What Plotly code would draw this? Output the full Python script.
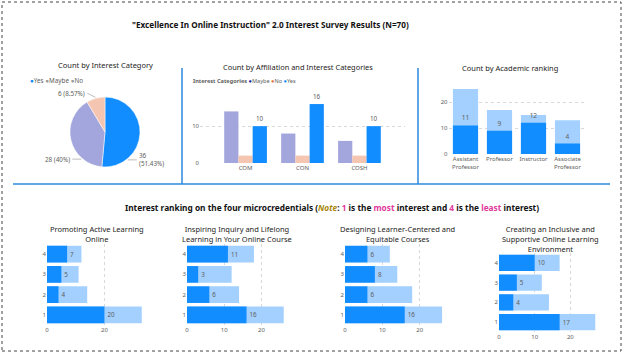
import math
import plotly.graph_objects as go

W, H = 624, 354
FONT = "Noto Sans"
BLUE = "#118DFF"
LIGHT = "#A3D0FF"
LAV = "#A3A6DC"
PEACH = "#F4C5B0"
GREY = "#605E5C"
TITLE_C = "#252423"

# ---- data ----
interest_labels = ["Yes", "Maybe", "No"]
interest_counts = [36, 28, 6]

affiliations = ["COM", "CON", "COSH"]
aff_maybe = [14, 8, 6]
aff_no = [2, 2, 2]
aff_yes = [10, 16, 10]

ranks = ["Assistant<br>Professor", "Professor", "Instructor", "Associate<br>Professor"]
rank_total = [25, 17, 15, 13]
rank_yes = [11, 9, 12, 4]

levels = [1, 2, 3, 4]
course_titles = [
    "Promoting Active Learning<br>Online",
    "Inspiring Inquiry and Lifelong<br>Learning in Your Online Course",
    "Designing Learner-Centered and<br>Equitable Courses",
    "Creating an Inclusive and<br>Supportive Online Learning<br>Environment",
]
course_total = [[33, 14, 11, 12], [26, 14, 12, 18], [26, 18, 14, 12], [27, 14, 12, 17]]
course_yes = [[20, 4, 5, 7], [16, 6, 3, 11], [16, 6, 8, 6], [17, 4, 5, 10]]


def px(x):
    return x / W


def py(y):
    return 1 - y / H


fig = go.Figure()
ann = []
shapes = []

# ---- pie ----
cx, cy, r = 105, 132, 35
fig.add_trace(go.Pie(
    labels=interest_labels, values=interest_counts,
    textinfo="none", sort=False, direction="clockwise",
    marker=dict(colors=[BLUE, LAV, PEACH], line=dict(color="white", width=0.5)),
    domain=dict(x=[px(cx - r), px(cx + r)], y=[py(cy + r), py(cy - r)]),
    showlegend=False, hoverinfo="label+value+percent",
))
# labels with leader lines: where along each slice the line meets it, and text offset
label_frac = [0.76, 0.25, 0.5]
label_off = [(9, 0), (-9, 0), (-8, -4)]
total = sum(interest_counts)
start = 0
for v, frac, (ox, oy) in zip(interest_counts, label_frac, label_off):
    pct = round(v / total * 100, 2)
    ang = 2 * math.pi * (start + v * frac) / total
    start += v
    hx = cx + (r + 1) * math.sin(ang)
    hy = cy - (r + 1) * math.cos(ang)
    txt = f"{v}<br>({pct:g}%)" if v == max(interest_counts) else f"{v} ({pct:g}%)"
    ann.append(dict(x=px(hx), y=py(hy), text=txt, showarrow=True, arrowhead=0,
                    arrowwidth=0.7, arrowcolor="#A0A0A0", ax=ox, ay=oy,
                    xanchor="left" if ox > 0 else "right", yanchor="middle",
                    align="left", font=dict(size=6.3, color=GREY)))
ann.append(dict(x=px(105), y=py(65), text="Count by Interest Category",
                font=dict(size=7.5, color=TITLE_C)))
ann.append(dict(x=px(28), y=py(80), xanchor="left",
                text=f"<span style='color:{BLUE}'>●</span>Yes <span style='color:#9A9A9A'>●</span>Maybe "
                     f"<span style='color:#9A9A9A'>●</span>No",
                font=dict(size=6.3, color=GREY)))

# ---- affiliation ----
for name, vals, col, off, lab in [("Maybe", aff_maybe, LAV, -0.375, False),
                                  ("No", aff_no, PEACH, -0.125, False),
                                  ("Yes", aff_yes, BLUE, 0.125, True)]:
    fig.add_trace(go.Bar(
        x=affiliations, y=vals, name=name, marker=dict(color=col, line=dict(width=0)),
        width=0.25, offset=off, xaxis="x", yaxis="y", showlegend=False,
        text=vals if lab else None, textposition="outside", cliponaxis=False,
        textfont=dict(size=6.3, color=GREY),
    ))
ann.append(dict(x=px(298), y=py(67), text="Count by Affiliation and Interest Categories",
                font=dict(size=7.4, color=TITLE_C)))
ann.append(dict(x=px(191), y=py(81), xanchor="left",
                text="<b>Interest Categories</b> <span style='color:#12239E'>●</span>Maybe "
                     "<span style='color:#E66C37'>●</span>No <span style='color:#118DFF'>●</span>Yes",
                font=dict(size=5.6, color=GREY)))

# ---- academic ranking ----
fig.add_trace(go.Bar(x=ranks, y=rank_total, marker=dict(color=LIGHT, line=dict(width=0)),
                     width=0.74, xaxis="x2", yaxis="y2", showlegend=False))
fig.add_trace(go.Bar(x=ranks, y=rank_yes, marker=dict(color=BLUE, line=dict(width=0)),
                     width=0.74, xaxis="x2", yaxis="y2", showlegend=False,
                     text=rank_yes, textposition="outside", cliponaxis=False,
                     textfont=dict(size=6.5, color=GREY)))
ann.append(dict(x=px(510), y=py(68), text="Count by Academic ranking",
                font=dict(size=7.5, color=TITLE_C)))

# ---- microcredential rankings ----
panel_x = [(47, 147.5, 35, [0, 20]), (187, 298.6, 30, [0, 10, 20]),
           (345, 457, 30, [0, 10, 20]), (499, 606, 30, [0, 10, 20])]
panel_y = [(325, 244), (325, 244), (325, 244), (332, 253)]
title_cx = [97, 237, 397, 550]
for i in range(4):
    n = i + 3
    fig.add_trace(go.Bar(y=levels, x=course_total[i], orientation="h",
                         marker=dict(color=LIGHT, line=dict(width=0)), width=0.82,
                         xaxis=f"x{n}", yaxis=f"y{n}", showlegend=False))
    fig.add_trace(go.Bar(y=levels, x=course_yes[i], orientation="h",
                         marker=dict(color=BLUE, line=dict(width=0)), width=0.82,
                         xaxis=f"x{n}", yaxis=f"y{n}", showlegend=False,
                         text=course_yes[i], textposition="outside", cliponaxis=False,
                         textfont=dict(size=6.3, color=GREY)))
    ann.append(dict(x=px(title_cx[i]), y=py(222), yanchor="top", text=course_titles[i],
                    font=dict(size=7.5, color=TITLE_C)))

ann.append(dict(
    x=px(332), y=py(207),
    text="<b>Interest ranking on the four microcredentials (<i><span style='color:#A8860A'>Note</span></i>: "
         "<span style='color:#E0389C'>1</span> is the <span style='color:#E0389C'>most</span> interest and "
         "<span style='color:#E0389C'>4</span> is the <span style='color:#E0389C'>least</span> interest)</b>",
    font=dict(size=8.3, color="#111")))
ann.append(dict(x=px(270), y=py(25),
                text="<b>\"Excellence In Online Instruction\" 2.0 Interest Survey Results (N=70)</b>",
                font=dict(size=8.2, color="#111")))

for a in ann:
    a.setdefault("xref", "paper")
    a.setdefault("yref", "paper")
    a.setdefault("showarrow", False)
    a.setdefault("xanchor", "center")
    a.setdefault("yanchor", "middle")

# ---- frame & separators ----
shapes.append(dict(type="rect", xref="paper", yref="paper", x0=px(2), x1=px(621), y0=py(351), y1=py(2),
                   line=dict(color="#444", width=1, dash="dot")))
shapes.append(dict(type="line", xref="paper", yref="paper", x0=px(13), x1=px(610), y0=py(184), y1=py(184),
                   line=dict(color="#2B8AE0", width=1.5)))
for xv in (182, 418):
    shapes.append(dict(type="line", xref="paper", yref="paper", x0=px(xv), x1=px(xv), y0=py(184), y1=py(68),
                       line=dict(color="#2B8AE0", width=1.5)))

tick = dict(size=6, color=GREY, family=FONT)
grid = dict(showgrid=True, gridcolor="#D8D8D8", griddash="dot", gridwidth=1, zeroline=False,
            showline=False, ticks="", tickfont=tick, automargin=False)
layout = dict(
    template="none",
    width=W, height=H, margin=dict(l=0, r=0, t=0, b=0, autoexpand=False),
    paper_bgcolor="white", plot_bgcolor="white", showlegend=False,
    font=dict(family=FONT), barmode="overlay",
    annotations=ann, shapes=shapes,
    xaxis=dict(domain=[px(200), px(405)], range=[-0.8, 2.8], anchor="y", showgrid=False,
               ticks="", tickfont=tick, type="category", automargin=False),
    yaxis=dict(domain=[py(163), py(93)], range=[0, 19], dtick=10, anchor="x", **grid),
    xaxis2=dict(domain=[px(448.5), px(584.5)], range=[-0.5, 3.5], anchor="y2", showgrid=False,
                ticks="", tickfont=tick, type="category", automargin=False),
    yaxis2=dict(domain=[py(154), py(86)], range=[0, 26.2], dtick=10, anchor="x2", **grid),
)
for i in range(4):
    n = i + 3
    x0, x1, xmax, tv = panel_x[i]
    yb, yt = panel_y[i]
    layout[f"xaxis{n}"] = dict(domain=[px(x0), px(x1)], range=[0, xmax], tickvals=tv, anchor=f"y{n}", **grid)
    layout[f"yaxis{n}"] = dict(domain=[py(yb), py(yt)], range=[0.5, 4.5], tickvals=levels,
                               anchor=f"x{n}", showgrid=False, zeroline=False, ticks="",
                               tickfont=tick, automargin=False)
fig.update_layout(**layout)

# drop the default page margin so the 624x354 figure fills the window exactly
fig.write_html("out.html", config={"displayModeBar": False},
               post_script="document.body.style.margin='0';document.body.style.overflow='hidden';")
